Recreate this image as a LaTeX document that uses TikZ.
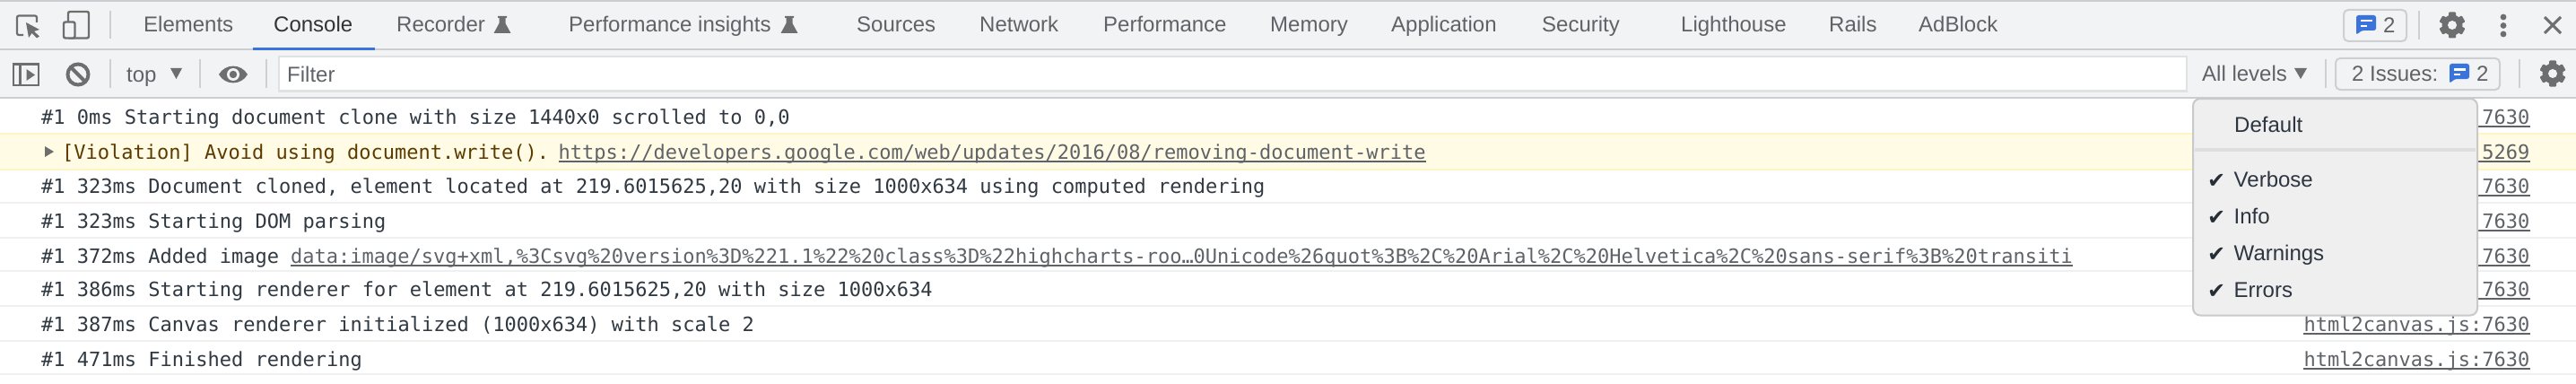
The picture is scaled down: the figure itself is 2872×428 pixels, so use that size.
\documentclass[tikz,border=0pt]{standalone}
\usepackage{fontspec}
\setmainfont{Liberation Sans}
\setmonofont{DejaVu Sans Mono}
\newfontfamily\checkfont{DejaVu Sans}
\definecolor{barbg}{HTML}{F1F3F4}
\definecolor{barline}{HTML}{CACDD1}
\definecolor{iconc}{HTML}{6E6E6E}
\definecolor{tabc}{HTML}{5F6368}
\definecolor{tabon}{HTML}{333333}
\definecolor{accent}{HTML}{3B73DC}
\definecolor{rowline}{HTML}{F0F0F0}
\definecolor{msgc}{HTML}{303942}
\definecolor{linkc}{HTML}{5F6368}
\definecolor{warnbg}{HTML}{FFFBE5}
\definecolor{warnline}{HTML}{FFF5C2}
\definecolor{warnc}{HTML}{5C3B00}
\definecolor{menubg}{HTML}{EFEFEF}
\definecolor{menuline}{HTML}{C9C9C9}
\definecolor{menusep}{HTML}{DEDEDE}
\definecolor{menutext}{HTML}{2D3540}
\definecolor{sepc}{HTML}{CDCFD2}
\definecolor{fieldline}{HTML}{DFE1E3}
\tikzset{
  x=1pt,y=-1pt,
  tab/.style={anchor=base west,inner sep=0pt,text=tabc,font=\fontsize{24}{28}\selectfont},
  bartext/.style={tab,text=tabc},
  msg/.style={anchor=base west,inner sep=0pt,text=msgc,font=\ttfamily\fontsize{22}{26}\selectfont},
  lnk/.style={msg,text=linkc},
  item/.style={anchor=base west,inner sep=0pt,text=menutext,font=\fontsize{24}{28}\selectfont},
  tick/.style={anchor=base west,inner sep=0pt,text=menutext!85!black,font=\checkfont\fontsize{24}{28}\selectfont},
  rowsep/.style={draw=rowline,line width=2pt},
  barsep/.style={draw=sepc,line width=2pt},
  ulink/.style={draw=linkc,line width=2pt},
  gearicon/.pic={
    \fill[iconc] (0,0) circle (11.5);
    \foreach \a in {0,60,...,300}{\fill[iconc,rotate=\a,rounded corners=1pt] (-4,-14.5) rectangle (4,-5);}
    \fill[barbg] (0,0) circle (5);
  },
  chaticon/.pic={
    \fill[accent,rounded corners=2.5pt] (0,0) -- (22,0) -- (22,17) -- (6,17) -- (0,22) -- cycle;
    \fill[white] (5,5.5) rectangle (18,7.5);
    \fill[white] (5,11) rectangle (12,13);
  },
  flaskicon/.pic={
    \fill[iconc] (-5,0) -- (5,0) -- (5,2) -- (3.5,2) -- (3.5,8) -- (9.5,19) -- (-9.5,19) -- (-3.5,8) -- (-3.5,2) -- (-5,2) -- cycle;
  }
}
\begin{document}
\begin{tikzpicture}
\useasboundingbox (0,0) rectangle (2872,428);
\fill[white] (0,0) rectangle (2872,428);
% bars
\fill[barbg] (0,0) rectangle (2872,109);
\fill[barline] (0,0) rectangle (2872,2);
\fill[barline] (0,54) rectangle (2872,56);
\fill[barline] (0,107.5) rectangle (2872,109.5);
\fill[accent] (282,53) rectangle (418,56);
% devtools left icons
\draw[iconc,line width=2.2pt,rounded corners=2pt] (26,39) -- (19,39) -- (19,17.5) -- (41,17.5) -- (41,25);
\fill[iconc] (29,25) -- (44,33) -- (38,35) -- (44,40.5) -- (41,42.5) -- (35.5,37) -- (32,42) -- cycle;
\draw[iconc,line width=2.4pt,rounded corners=2pt] (76,13) rectangle (99,42.5);
\fill[barbg] (70,24) rectangle (84,43.5);
\draw[iconc,line width=2.4pt,rounded corners=2pt] (71,24.5) rectangle (83.5,42.5);
\draw[barsep] (123,12) -- (123,43);
% tabs
\node[tab] (tElements) at (160,36) {Elements};
\node[tab,text=tabon] (tConsole) at (305,36) {Console};
\node[tab] (tRecorder) at (442,36) {Recorder};
\pic at (560,18) {flaskicon};
\node[tab] (tInsights) at (634,36) {Performance insights};
\pic at (880,18) {flaskicon};
\node[tab] (tSources) at (955,36) {Sources};
\node[tab] (tNetwork) at (1092,36) {Network};
\node[tab] (tPerformance) at (1230,36) {Performance};
\node[tab] (tMemory) at (1416,36) {Memory};
\node[tab] (tApplication) at (1551,36) {Application};
\node[tab] (tSecurity) at (1719,36) {Security};
\node[tab] (tLighthouse) at (1874,36) {Lighthouse};
\node[tab] (tRails) at (2039,36) {Rails};
\node[tab] (tAdBlock) at (2139,36) {AdBlock};
% top right
\draw[sepc,line width=2pt,rounded corners=5pt] (2613,11) rectangle (2683,46);
\pic at (2627,17) {chaticon};
\node[tab] (nTopIssues) at (2657,37) {2};
\draw[barsep] (2697,12) -- (2697,44);
\pic at (2734,28) {gearicon};
\fill[iconc] (2791,19) circle (3.4) (2791,28.5) circle (3.4) (2791,38) circle (3.4);
\draw[iconc,line width=3pt] (2837,19) -- (2855,37) (2855,19) -- (2837,37);
% toolbar
\draw[iconc,line width=2.2pt] (15,71.5) rectangle (43,95);
\draw[iconc,line width=2.2pt] (22.5,71.5) -- (22.5,95);
\fill[iconc] (29.5,77) -- (39,83.5) -- (29.5,90) -- cycle;
\draw[iconc,line width=4pt] (87,83) circle (11.5);
\draw[iconc,line width=4pt] (79,75) -- (95,91);
\draw[barsep] (123,66) -- (123,98);
\node[bartext] (nTop) at (141,92) {top};
\fill[iconc] (190,76) -- (203,76) -- (196.5,88) -- cycle;
\draw[barsep] (223,66) -- (223,98);
\fill[iconc] (244,83) .. controls (251,70.5) and (269,70.5) .. (276,83) .. controls (269,95.5) and (251,95.5) .. (244,83) -- cycle;
\fill[barbg] (260,83) circle (7);
\fill[iconc] (260,83) circle (4.2);
\draw[barsep] (297,66) -- (297,98);
\draw[fieldline,fill=white,line width=2.5pt] (311,63) rectangle (2438,101.5);
\node[bartext] (nFilter) at (320,92) {Filter};
\node[bartext] (nLevels) at (2455,91) {All levels};
\fill[iconc] (2558,76) -- (2572,76) -- (2565,88) -- cycle;
\draw[barsep] (2593,66) -- (2593,98);
\draw[sepc,line width=2pt,rounded corners=5pt] (2604,65) rectangle (2787,100);
\node[bartext] (nIssues) at (2622,91) {2 Issues:};
\pic at (2731,71) {chaticon};
\node[bartext] (nIssuesNum) at (2761,91) {2};
\draw[barsep] (2809,66) -- (2809,98);
\pic at (2846,82) {gearicon};
% rows
\fill[warnbg] (0,148) rectangle (2872,188.5);
\draw[warnline,line width=2pt] (0,148.5) -- (2872,148.5) (0,188.5) -- (2872,188.5);
\foreach \y in {226,265,302,341,380,417}{\draw[rowsep] (0,\y) -- (2872,\y);}
\node[msg] (r1) at (46,138) {\#1 0ms Starting document clone with size 1440x0 scrolled to 0,0};
\fill[iconc] (50,163) -- (60,169) -- (50,175) -- cycle;
\node[msg,text=warnc] (r2) at (69,177) {[Violation] Avoid using document.write().};
\node[lnk] (r2l) at (622.5,177) {https://developers.google.com/web/updates/2016/08/removing-document-write};
\draw[ulink] ([yshift=-2.5pt]r2l.base west) -- ([yshift=-2.5pt]r2l.base east);
\node[msg] (r3) at (46,215) {\#1 323ms Document cloned, element located at 219.6015625,20 with size 1000x634 using computed rendering};
\node[msg] (r4) at (46,254) {\#1 323ms Starting DOM parsing};
\node[msg] (r5) at (46,293) {\#1 372ms Added image};
\node[lnk] (r5l) at (324,293) {data:image/svg+xml,\%3Csvg\%20version\%3D\%221.1\%22\%20class\%3D\%22highcharts-roo…0Unicode\%26quot\%3B\%2C\%20Arial\%2C\%20Helvetica\%2C\%20sans-serif\%3B\%20transiti};
\draw[ulink] ([yshift=-2.5pt]r5l.base west) -- ([yshift=-2.5pt]r5l.base east);
\node[msg] (r6) at (46,330.5) {\#1 386ms Starting renderer for element at 219.6015625,20 with size 1000x634};
\node[msg] (r7) at (46,369) {\#1 387ms Canvas renderer initialized (1000x634) with scale 2};
\node[msg] (r8) at (46,408) {\#1 471ms Finished rendering};
% right-hand source links
\foreach \n/\y/\t in {a/138/7630,b/177/5269,c/215/7630,d/254/7630,e/293/7630,f/330.5/7630}{
  \node[lnk,anchor=base east] (src\n) at (2820.5,\y) {\t};
  \draw[ulink] ([yshift=-2.5pt]src\n.base east) -- +(-60,0);
}
\node[lnk,anchor=base east] (srcg) at (2820.5,369) {html2canvas.js:7630};
\draw[ulink] ([yshift=-2.5pt]srcg.base west) -- ([yshift=-2.5pt]srcg.base east);
\node[lnk,anchor=base east] (srch) at (2820.5,408) {html2canvas.js:7630};
\draw[ulink] ([yshift=-2.5pt]srch.base west) -- ([yshift=-2.5pt]srch.base east);
% dropdown
\draw[menuline,fill=menubg,line width=2pt,rounded corners=8pt] (2445,110) rectangle (2762,351.5);
\fill[menusep] (2447,165) rectangle (2760,169);
\node[item] (mDefault) at (2491,147) {Default};
\node[tick] (c1) at (2461,209) {✔};
\node[item] (mVerbose) at (2490.5,208) {Verbose};
\node[tick] (c2) at (2461,250) {✔};
\node[item] (mInfo) at (2490.5,249.5) {Info};
\node[tick] (c3) at (2461,291) {✔};
\node[item] (mWarnings) at (2490.5,290.5) {Warnings};
\node[tick] (c4) at (2461,332) {✔};
\node[item] (mErrors) at (2490.5,331.5) {Errors};
\end{tikzpicture}
\end{document}
